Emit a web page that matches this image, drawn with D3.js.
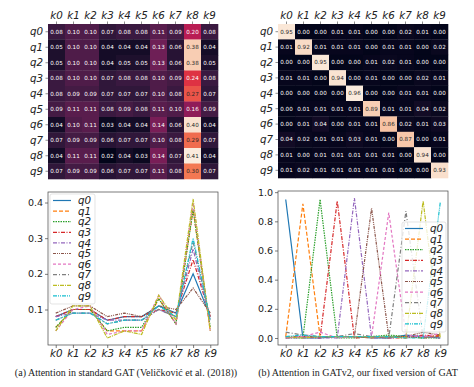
<!DOCTYPE html>
<html>
<head>
<meta charset="utf-8">
<script src="https://cdn.jsdelivr.net/npm/d3@7"></script>
<style>
  body { margin: 0; background: #fff; }
  svg { display: block; }
</style>
</head>
<body>
<svg id="chart" width="474" height="387"></svg>
<script>
// row / column names
var queries = ["q0", "q1", "q2", "q3", "q4", "q5", "q6", "q7", "q8", "q9"];
var keys = ["k0", "k1", "k2", "k3", "k4", "k5", "k6", "k7", "k8", "k9"];

// attention in standard GAT (one array per query row)
var gatRows = [
  [0.08, 0.10, 0.10, 0.07, 0.08, 0.08, 0.11, 0.09, 0.20, 0.08],
  [0.05, 0.10, 0.10, 0.04, 0.04, 0.04, 0.13, 0.06, 0.38, 0.04],
  [0.05, 0.10, 0.10, 0.04, 0.05, 0.05, 0.13, 0.06, 0.38, 0.05],
  [0.08, 0.10, 0.10, 0.07, 0.08, 0.08, 0.10, 0.09, 0.24, 0.08],
  [0.08, 0.09, 0.09, 0.07, 0.07, 0.07, 0.10, 0.08, 0.27, 0.07],
  [0.09, 0.11, 0.11, 0.08, 0.09, 0.08, 0.11, 0.10, 0.16, 0.09],
  [0.04, 0.10, 0.11, 0.03, 0.04, 0.04, 0.14, 0.06, 0.40, 0.04],
  [0.07, 0.09, 0.09, 0.06, 0.07, 0.07, 0.10, 0.08, 0.29, 0.07],
  [0.04, 0.11, 0.11, 0.02, 0.04, 0.03, 0.14, 0.07, 0.41, 0.04],
  [0.07, 0.09, 0.09, 0.06, 0.07, 0.07, 0.11, 0.08, 0.30, 0.07]
];

// attention in GATv2
var gatv2Rows = [
  [0.95, 0.00, 0.00, 0.01, 0.01, 0.00, 0.00, 0.02, 0.01, 0.00],
  [0.01, 0.92, 0.01, 0.01, 0.01, 0.00, 0.01, 0.01, 0.00, 0.02],
  [0.00, 0.00, 0.95, 0.00, 0.00, 0.01, 0.02, 0.01, 0.00, 0.00],
  [0.01, 0.01, 0.00, 0.94, 0.00, 0.01, 0.00, 0.00, 0.02, 0.01],
  [0.00, 0.00, 0.00, 0.00, 0.96, 0.00, 0.00, 0.01, 0.01, 0.00],
  [0.00, 0.01, 0.01, 0.01, 0.01, 0.89, 0.01, 0.01, 0.04, 0.02],
  [0.00, 0.01, 0.04, 0.00, 0.01, 0.01, 0.86, 0.02, 0.01, 0.03],
  [0.04, 0.02, 0.01, 0.01, 0.03, 0.01, 0.00, 0.87, 0.00, 0.01],
  [0.01, 0.00, 0.01, 0.01, 0.01, 0.01, 0.01, 0.00, 0.94, 0.00],
  [0.01, 0.02, 0.01, 0.01, 0.01, 0.01, 0.01, 0.00, 0.00, 0.93]
];

var gatTicks = [0.1, 0.2, 0.3, 0.4];
var gatv2Ticks = [0.0, 0.2, 0.4, 0.6, 0.8, 1.0];

var captionA = "(a) Attention in standard GAT (Veli\u010dkovi\u0107 et al. (2018))";
var captionB = "(b) Attention in GATv2, our fixed version of GAT";

// tab10 colours and a dash pattern for each query line
var colors = ["#1f77b4", "#ff7f0e", "#2ca02c", "#d62728", "#9467bd",
              "#8c564b", "#e377c2", "#7f7f7f", "#bcbd22", "#17becf"];
var dashes = ["", "4,2", "1.5,1", "4,1.5,1,1.5", "4,1.5,1,1.5",
              "3,1,1,1,1,1", "3,2", "4,2,1,2", "4,1,1,1", "4,1,1,1,1,1"];

// seaborn "rocket" colormap, approximated
var rocketStops = [0, 1 / 7, 2 / 7, 3 / 7, 4 / 7, 5 / 7, 6 / 7, 1];
var rocketColors = ["#03051a", "#35193e", "#701f57", "#ad1759",
                    "#e13342", "#f37651", "#f6b48f", "#faebdd"];

var svg = d3.select("#chart");
var fontSans = "DejaVu Sans, sans-serif";

/**
 * Draws an annotated heatmap in the box [x0,x1] x [y0,y1]
 */
function drawHeatmap(rows, x0, x1, y0, y1) {
  var flat = [].concat.apply([], rows);
  var lo = d3.min(flat), hi = d3.max(flat);
  var cmap = d3.scaleLinear()
    .domain(rocketStops.map(function (t) { return lo + t * (hi - lo); }))
    .range(rocketColors)
    .interpolate(d3.interpolateRgb);

  var x = d3.scaleBand().domain(keys).range([x0, x1]);
  var y = d3.scaleBand().domain(queries).range([y0, y1]);

  var g = svg.append("g");
  var cells = [];
  rows.forEach(function (r, i) {
    r.forEach(function (v, j) {
      cells.push({ q: queries[i], k: keys[j], v: v });
    });
  });

  g.selectAll("rect")
    .data(cells)
    .enter()
    .append("rect")
    .attr("x", function (d) { return x(d.k); })
    .attr("y", function (d) { return y(d.q); })
    .attr("width", x.bandwidth() + 0.3)
    .attr("height", y.bandwidth() + 0.3)
    .attr("fill", function (d) { return cmap(d.v); });

  g.selectAll("text.val")
    .data(cells)
    .enter()
    .append("text")
    .attr("class", "val")
    .attr("x", function (d) { return x(d.k) + x.bandwidth() / 2; })
    .attr("y", function (d) { return y(d.q) + y.bandwidth() / 2; })
    .attr("dy", "0.35em")
    .attr("text-anchor", "middle")
    .style("font-family", fontSans)
    .style("font-size", "5.6px")
    .attr("fill", function (d) {
      var c = d3.rgb(cmap(d.v));
      var lum = (0.2126 * c.r + 0.7152 * c.g + 0.0722 * c.b) / 255;
      return lum > 0.408 ? "#262626" : "#ffffff";
    })
    .text(function (d) { return d.v.toFixed(2); });

  // column labels on top
  var top = g.append("g")
    .attr("transform", "translate(0," + y0 + ")")
    .call(d3.axisTop(x).tickSize(2.5).tickPadding(3));
  top.select(".domain").remove();
  top.selectAll("line").attr("stroke", "#444").attr("stroke-width", 0.6);
  top.selectAll("text")
    .style("font-family", fontSans)
    .style("font-style", "italic")
    .style("font-size", "10.3px")
    .attr("fill", "#222");

  // row labels on the left
  var left = g.append("g")
    .attr("transform", "translate(" + x0 + ",0)")
    .call(d3.axisLeft(y).tickSize(2.5).tickPadding(2.5));
  left.select(".domain").remove();
  left.selectAll("line").attr("stroke", "#444").attr("stroke-width", 0.6);
  left.selectAll("text")
    .style("font-family", fontSans)
    .style("font-style", "italic")
    .style("font-size", "10.3px")
    .attr("fill", "#222");
}

/**
 * Draws the per-query line chart with its legend
 */
function drawLines(rows, box, yDomain, yTicks, tickFmt, legend) {
  var x = d3.scaleLinear().domain([-0.45, 9.45]).range([box.x0, box.x1]);
  var y = d3.scaleLinear().domain(yDomain).range([box.y1, box.y0]);

  var g = svg.append("g");

  var line = d3.line()
    .x(function (d, i) { return x(i); })
    .y(function (d) { return y(d); });

  rows.forEach(function (r, i) {
    g.append("path")
      .datum(r)
      .attr("d", line)
      .attr("fill", "none")
      .attr("stroke", colors[i])
      .attr("stroke-width", 1.2)
      .attr("stroke-dasharray", dashes[i]);
  });

  // frame
  g.append("rect")
    .attr("x", box.x0)
    .attr("y", box.y0)
    .attr("width", box.x1 - box.x0)
    .attr("height", box.y1 - box.y0)
    .attr("fill", "none")
    .attr("stroke", "#444")
    .attr("stroke-width", 0.7);

  var xAxis = g.append("g")
    .attr("transform", "translate(0," + box.y1 + ")")
    .call(d3.axisBottom(x).tickValues(d3.range(10))
      .tickFormat(function (d) { return keys[d]; })
      .tickSize(3).tickPadding(2));
  xAxis.select(".domain").remove();
  xAxis.selectAll("line").attr("stroke", "#444").attr("stroke-width", 0.7);
  xAxis.selectAll("text")
    .style("font-family", fontSans)
    .style("font-style", "italic")
    .style("font-size", "10.3px")
    .attr("fill", "#222");

  var yAxis = g.append("g")
    .attr("transform", "translate(" + box.x0 + ",0)")
    .call(d3.axisLeft(y).tickValues(yTicks).tickFormat(d3.format(tickFmt))
      .tickSize(3).tickPadding(2));
  yAxis.select(".domain").remove();
  yAxis.selectAll("line").attr("stroke", "#444").attr("stroke-width", 0.7);
  yAxis.selectAll("text")
    .style("font-family", fontSans)
    .style("font-size", "9.5px")
    .attr("fill", "#222");

  // legend
  var lg = g.append("g");
  lg.append("rect")
    .attr("x", legend.x)
    .attr("y", legend.y)
    .attr("width", legend.w)
    .attr("height", legend.h)
    .attr("rx", 2)
    .attr("fill", "#fff")
    .attr("fill-opacity", 0.8)
    .attr("stroke", "#d8d8d8")
    .attr("stroke-width", 0.7);
  queries.forEach(function (q, i) {
    var yy = legend.y + 6.5 + i * legend.step;
    lg.append("line")
      .attr("x1", legend.x + 3)
      .attr("x2", legend.x + 21)
      .attr("y1", yy)
      .attr("y2", yy)
      .attr("stroke", colors[i])
      .attr("stroke-width", 1.2)
      .attr("stroke-dasharray", dashes[i]);
    lg.append("text")
      .attr("x", legend.x + 28)
      .attr("y", yy)
      .attr("dy", "0.35em")
      .style("font-family", fontSans)
      .style("font-style", "italic")
      .style("font-size", "10.3px")
      .attr("fill", "#222")
      .text(q);
  });
}

drawHeatmap(gatRows, 48, 218, 24, 179);
drawHeatmap(gatv2Rows, 278, 448, 24, 178);

drawLines(gatRows, { x0: 48, x1: 218, y0: 192, y1: 345 },
  [0.0005, 0.4295], gatTicks, ".1f",
  { x: 50, y: 194, w: 45, h: 110, step: 10.6 });
drawLines(gatv2Rows, { x0: 278, x1: 448, y0: 191, y1: 345 },
  [-0.048, 1.008], gatv2Ticks, ".1f",
  { x: 402, y: 222, w: 44, h: 110, step: 10.6 });

// captions
svg.append("text")
  .attr("x", 126)
  .attr("y", 376)
  .attr("text-anchor", "middle")
  .style("font-family", "Liberation Serif, serif")
  .style("font-size", "10px")
  .attr("fill", "#222")
  .text(captionA);
svg.append("text")
  .attr("x", 358)
  .attr("y", 376)
  .attr("text-anchor", "middle")
  .style("font-family", "Liberation Serif, serif")
  .style("font-size", "10px")
  .attr("fill", "#222")
  .text(captionB);
</script>
</body>
</html>
